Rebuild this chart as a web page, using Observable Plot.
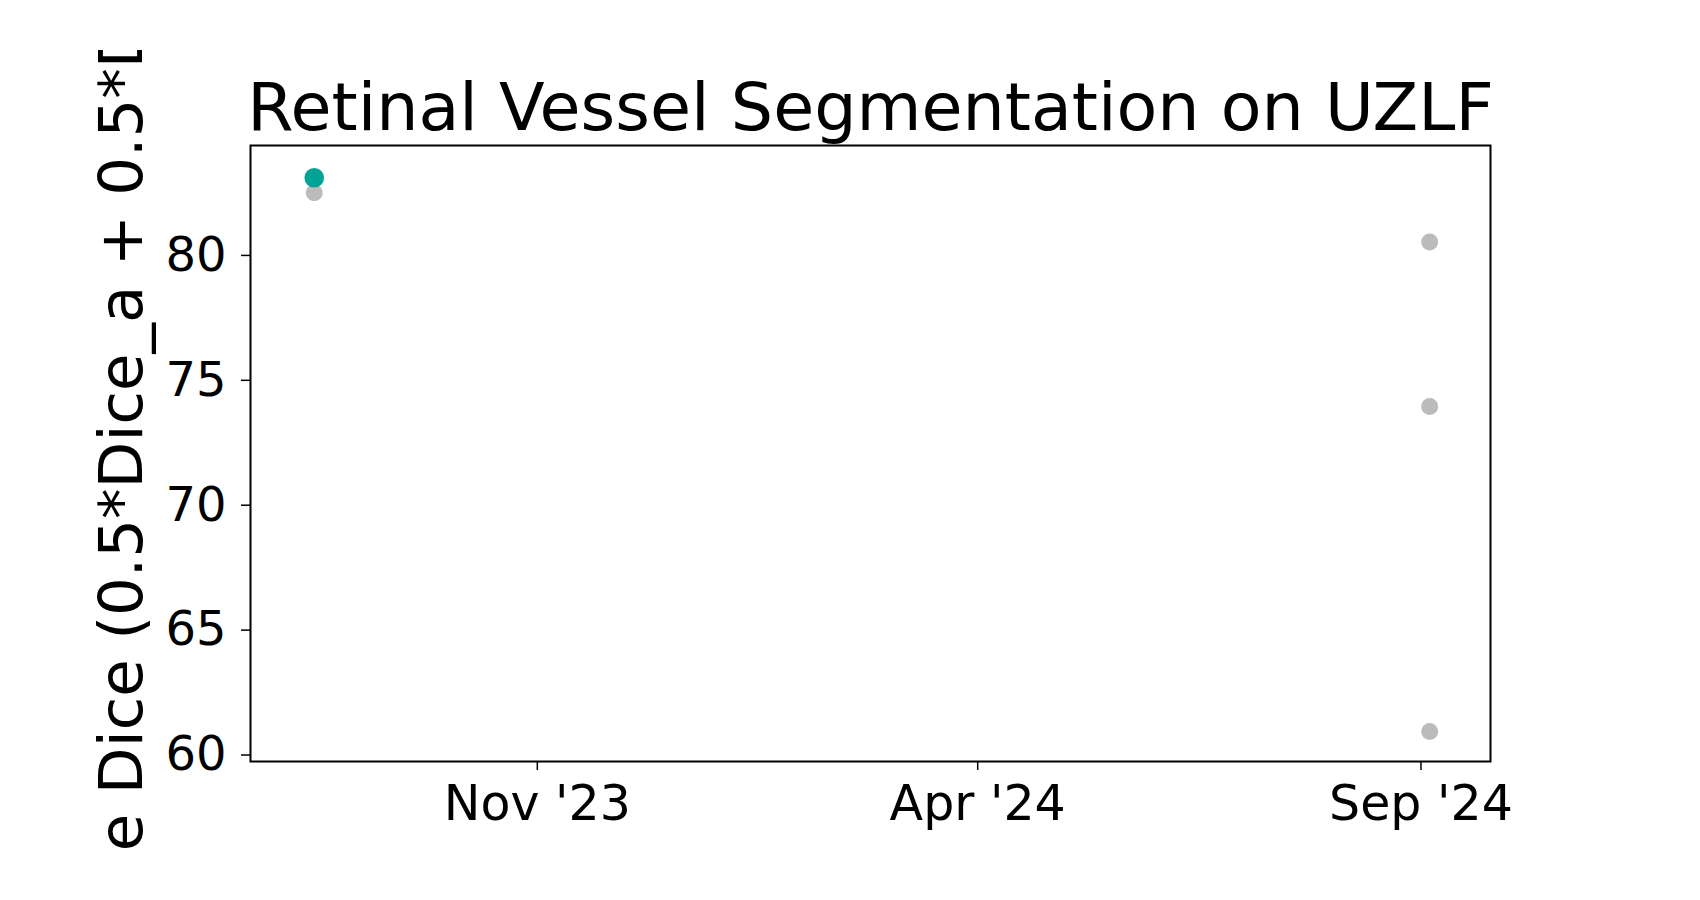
<!DOCTYPE html>
<html>
<head>
<meta charset="utf-8">
<script src="https://cdn.jsdelivr.net/npm/d3@7"></script>
<script src="https://cdn.jsdelivr.net/npm/@observablehq/plot@0.6"></script>
<style>
  html, body { margin: 0; padding: 0; background: white; }
  #chart { position: absolute; left: 0; top: 50px; width: 1700px; height: 800px; }
</style>
</head>
<body>
<div id="chart"></div>
<script>
// ---- data ----
const title = "Retinal Vessel Segmentation on UZLF";
const yLabel = "Average Dice (0.5*Dice_a + 0.5*Dice_v)";

const otherDates  = ["2023-08-16", "2024-09-04", "2024-09-04", "2024-09-04"];
const otherValues = [82.51, 80.54, 73.95, 60.94];

const bestDates  = ["2023-08-16"];
const bestValues = [83.11];

const xTickDates  = ["2023-11-01", "2024-04-01", "2024-09-01"];
const xTickLabels = ["Nov '23", "Apr '24", "Sep '24"];
const yTicks = [60, 65, 70, 75, 80];

const xDomain = ["2023-07-25", "2024-09-25"];
const yDomain = [59.74, 84.40];

// ---- build tables ----
const parse = d3.utcParse("%Y-%m-%d");
const others = otherDates.map((d, i) => ({date: parse(d), value: otherValues[i]}));
const best = bestDates.map((d, i) => ({date: parse(d), value: bestValues[i]}));
const tickDates = xTickDates.map(parse);
const tickLabelOf = new Map(tickDates.map((d, i) => [+d, xTickLabels[i]]));

const chart = Plot.plot({
  width: 1700,
  height: 800,
  marginLeft: 250,
  marginRight: 210,
  marginTop: 95,
  marginBottom: 89,
  style: {
    fontFamily: "'DejaVu Sans', sans-serif",
    fontSize: "48px",
    color: "black",
    background: "white",
    overflow: "hidden"
  },
  x: {type: "utc", domain: xDomain.map(parse)},
  y: {domain: yDomain},
  marks: [
    Plot.axisX({
      ticks: tickDates,
      tickFormat: d => tickLabelOf.get(+d),
      tickSize: 9,
      tickPadding: 15,
      strokeWidth: 1.5,
      fontSize: 49,
      label: null
    }),
    Plot.axisY({
      ticks: yTicks,
      tickSize: 9,
      tickPadding: 15,
      strokeWidth: 1.5,
      fontSize: 48,
      label: null
    }),
    Plot.dot(others, {x: "date", y: "value", r: 8.5, fill: "#bbbbbb", stroke: null}),
    Plot.dot(best, {x: "date", y: "value", r: 9.8, fill: "#00a396", stroke: null}),
    Plot.frame({stroke: "black", strokeWidth: 2}),
    Plot.text([title], {
      frameAnchor: "top",
      textAnchor: "middle",
      lineAnchor: "middle",
      dy: -37,
      fontSize: 66.7,
      fill: "black",
      text: d => d
    }),
    Plot.text([yLabel], {
      frameAnchor: "left",
      textAnchor: "middle",
      lineAnchor: "middle",
      rotate: -90,
      dx: -128,
      fontSize: 61,
      fill: "black",
      text: d => d
    })
  ]
});
document.getElementById("chart").appendChild(chart);
</script>
</body>
</html>
